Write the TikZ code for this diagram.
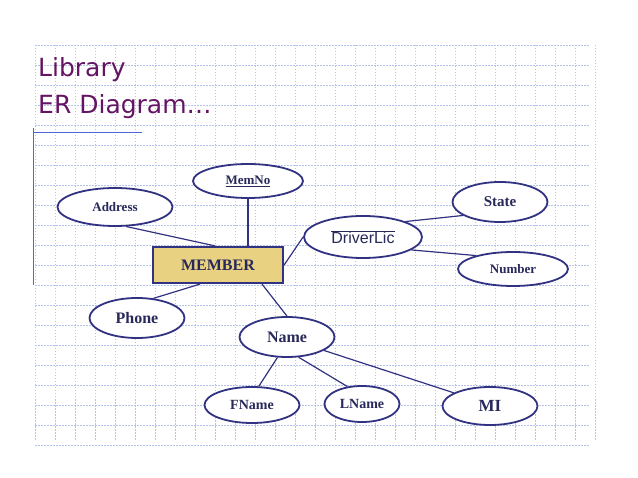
\documentclass[tikz,border=0pt]{standalone}
\usepackage{fontspec}
\setmainfont{Liberation Serif}
\newfontfamily\titlefont{DejaVu Sans}
\newfontfamily\sansf{Liberation Sans}
\usetikzlibrary{shapes.geometric}
\definecolor{navy}{RGB}{50,50,130}
\definecolor{ink}{RGB}{40,40,90}
\definecolor{purp}{RGB}{100,20,100}
\definecolor{gridc}{RGB}{180,195,235}
\definecolor{ent}{RGB}{232,210,130}
\definecolor{lblue}{RGB}{80,100,220}
\tikzset{
 attr/.style={ellipse,draw=navy,line width=1.8pt,fill=white,inner sep=0pt,font=\bfseries\fontsize{13}{13}\selectfont,text=ink},
 entbox/.style={draw=navy,line width=2.2pt,fill=ent,minimum width=130pt,minimum height=36pt,font=\bfseries\fontsize{16}{16}\selectfont,text=ink},
 link/.style={draw=navy,line width=1.2pt}
}
\begin{document}
\begin{tikzpicture}[x=1pt,y=-1pt]
\useasboundingbox (0,0) rectangle (638,478);
\fill[white] (0,0) rectangle (638,478);
\foreach \x in {35,55,...,595} \draw[gridc,dash pattern=on 1.5pt off 1.5pt,line width=0.7pt] (\x,45) -- (\x,440);
\foreach \y in {45,65,...,445} \draw[gridc,dash pattern=on 1.5pt off 1.5pt,line width=0.7pt] (35,\y) -- (590,\y);
\node[anchor=north west,align=left,text=purp,font=\titlefont\fontsize{25}{37}\selectfont,inner sep=0pt] (title) at (38,57) {Library\\ER Diagram\ldots};
\draw[lblue,line width=1pt] (33,128) -- (33,285);
\draw[lblue,line width=1pt] (33,133) -- (142,133);
\node[entbox] (member) at (218,265) {MEMBER};
\node[attr,minimum width=115pt,minimum height=38pt] (address) at (115,207) {Address};
\node[attr,minimum width=110pt,minimum height=34pt] (memno) at (248,181) {\underline{MemNo}};
\node[attr,minimum width=118pt,minimum height=42pt,font=\sansf\fontsize{16}{16}\selectfont] (driver) at (363,237) {$\overline{\mbox{DriverLic}}$};
\node[attr,minimum width=95pt,minimum height=40pt,font=\bfseries\fontsize{15}{15}\selectfont] (state) at (500,202) {State};
\node[attr,minimum width=110pt,minimum height=34pt] (number) at (513,269) {Number};
\node[attr,minimum width=95pt,minimum height=40pt,font=\bfseries\fontsize{16}{16}\selectfont] (phone) at (137,318) {Phone};
\node[attr,minimum width=95pt,minimum height=40pt,font=\bfseries\fontsize{16}{16}\selectfont] (name) at (287,337) {Name};
\node[attr,minimum width=95pt,minimum height=36pt,font=\bfseries\fontsize{14}{14}\selectfont] (fname) at (252,405) {FName};
\node[attr,minimum width=75pt,minimum height=36pt,font=\bfseries\fontsize{14}{14}\selectfont] (lname) at (362,404) {LName};
\node[attr,minimum width=95pt,minimum height=38pt,font=\bfseries\fontsize{17}{17}\selectfont] (mi) at (490,406) {MI};
\coordinate (mtop) at ([xshift=-3pt]member.north);
\draw[link] (address.-60) -- (mtop);
\draw[link] (memno.south) -- (member.north -| memno.south);
\draw[link] (member.east) -- (driver.west);
\draw[link] (driver.20) -- (state.200);
\draw[link] (driver.-15) -- (number.160);
\draw[link] (phone.50) -- ([xshift=-18pt]member.south);
\draw[link] ([xshift=44pt]member.south) -- (name.north);
\draw[link] (name.-115) -- (fname.70);
\draw[link] (name.-60) -- (lname.130);
\draw[link] (name.-20) -- (mi.160);
\end{tikzpicture}
\end{document}
